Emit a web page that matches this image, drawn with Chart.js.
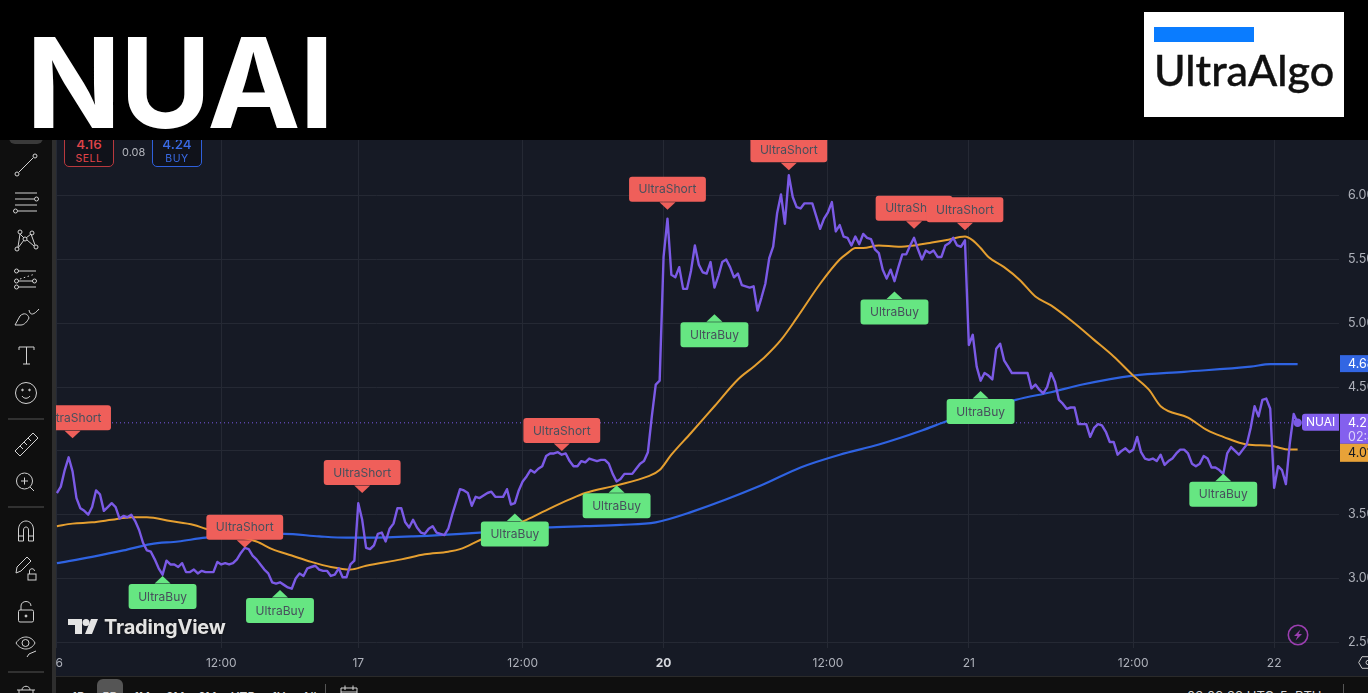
<!DOCTYPE html>
<html>
<head>
<meta charset="utf-8">
<title>NUAI</title>
<script src="https://cdn.jsdelivr.net/npm/chart.js@4/dist/chart.umd.min.js"></script>
<style>
html, body { margin: 0; padding: 0; background: #0f0f0f; }
body { position: relative; width: 1368px; height: 693px; overflow: hidden; font-family: Inter, sans-serif; }
.abs { position: absolute; white-space: nowrap; }
#chartWrap { position: absolute; left: 0; top: 0; width: 1368px; height: 693px; background: #161a25; }
#header { position: absolute; left: 0; top: 0; width: 1368px; height: 140px; background: #000; }
#ticker { position: absolute; left: 26px; top: 8px; font: 700 125px/150px Inter, sans-serif; color: #fff; letter-spacing: -1.5px; }
#logo { position: absolute; left: 1144px; top: 12px; width: 200px; height: 105px; background: #fff; }
#logoBar { position: absolute; left: 10px; top: 15px; width: 100px; height: 15px; background: #0a7cff; }
#logoText { position: absolute; left: 10px; top: 31px; font: 500 43px/54px Lato, sans-serif; color: #111; -webkit-text-stroke: .4px #111; }
#toolbar { position: absolute; left: 0; top: 140px; width: 52px; height: 553px; background: #0f0f0f; }
#toolbarEdge { position: absolute; left: 52px; top: 140px; width: 4px; height: 553px; background: #2e2e2e; }
#footer { position: absolute; left: 56px; top: 676px; width: 1312px; height: 17px; background: #0f0f0f; border-top: 1px solid #2a2a2a; box-sizing: border-box; }
.range { position: absolute; top: 689px; font-size: 12px; line-height: 15px; color: #d6d6d6; font-weight: 500; }
.trade { position: absolute; top: 130px; width: 50px; height: 37px; border-radius: 5px; background: #10121a; box-sizing: border-box; text-align: center; font-size: 13.5px; }
.trade b { display: block; margin-top: 6px; line-height: 14px; font-weight: 500; }
.trade span { display: block; font-size: 10.5px; line-height: 16px; letter-spacing: .5px; }
#tvName { position: absolute; left: 104px; top: 613px; font: 700 20px/28px Inter, sans-serif; color: #e4e4e4; letter-spacing: -.2px; text-shadow: 0 0 3px #111; }
svg.abs { overflow: visible; }
</style>
</head>
<body>
<div id="chartWrap"><canvas id="priceChart" width="1368" height="693"></canvas></div>

<div class="trade abs" style="left:64px;border:1px solid #b8393e;color:#e2454a"><b>4.16</b><span>SELL</span></div>
<div class="abs" style="left:122px;top:145px;font-size:11px;line-height:14px;color:#b4b6bd">0.08</div>
<div class="trade abs" style="left:152px;border:1px solid #2f60dc;color:#3a6be6"><b>4.24</b><span>BUY</span></div>

<!-- TradingView mark -->
<svg class="abs" style="left:67px;top:618px" width="32" height="18" viewBox="0 0 32 18">
  <path d="M1 1h14v15H8V7H1z M24 1h7l-6 15h-7z" fill="#e4e4e4"/><circle cx="19" cy="4.5" r="3.5" fill="#e4e4e4"/>
</svg>
<div id="tvName">TradingView</div>

<!-- lightning badge -->
<svg class="abs" style="left:1287px;top:624px" width="22" height="22" viewBox="0 0 22 22">
  <circle cx="11" cy="11" r="9.7" fill="none" stroke="#9b3fb0" stroke-width="1.6"/>
  <path d="M13.5 5.5 L7 12 H10.5 L8.5 16.5 L15 10 H11.5 Z" fill="#9b3fb0"/>
</svg>
<!-- axis settings -->
<svg class="abs" style="left:1358px;top:656px" width="14" height="13" viewBox="0 0 14 13">
  <path d="M4 .7H14V12.3H4L.7 6.5Z M8 6.5a2.2 2.2 0 1 0 4.4 0a2.2 2.2 0 1 0-4.4 0" fill="none" stroke="#c8c8c8"/>
</svg>

<div id="footer"></div>
<div class="abs" style="left:97px;top:679px;width:26px;height:20px;border-radius:6px;background:#555"></div>
<div id="rangeRow"></div>
<div class="abs" style="left:325px;top:684px;width:1px;height:10px;background:#555"></div>
<svg class="abs" style="left:340px;top:685px" width="18" height="12" viewBox="0 0 18 12"><path d="M1 3H17V14H1Z M5 .5V5 M13 .5V5 M1 7H17" fill="none" stroke="#d6d6d6"/></svg>
<div class="abs" style="left:1187px;top:689px;font-size:13px;line-height:15px;color:#d6d6d6">03:09:38 UTC-5&nbsp;&nbsp;RTH</div>
<div class="abs" style="left:1343px;top:684px;width:1px;height:10px;background:#555"></div>

<div id="toolbar"></div>
<div id="toolbarEdge"></div>
<svg class="abs" style="left:0;top:0" width="52" height="693" viewBox="0 0 52 693" fill="none" stroke="#d2d2d2" stroke-width="1">
  <rect x="9" y="120" width="34" height="24" rx="6" fill="#3a3a3a" stroke="none"/>
  <!-- trend line -->
  <path d="M19 172 L33 158"/><circle cx="17" cy="174" r="2"/><circle cx="35" cy="156" r="2"/>
  <!-- fib -->
  <path d="M15 193H37 M15 199H34 M15 205H37 M18 211H37"/><circle cx="36.500" cy="199" r="2"/><circle cx="15.500" cy="211" r="2"/>
  <!-- pattern -->
  <circle cx="20" cy="232" r="2"/><circle cx="32" cy="233" r="2"/><circle cx="25" cy="239" r="2"/><circle cx="17" cy="249" r="2"/><circle cx="36" cy="247" r="2"/>
  <path d="M18 247 L20 234 L24 238 M26 238 L31 234 L35 245 M18 248 L24 240 M27 240 L34 246"/>
  <!-- forecast -->
  <path d="M18 271H36 M18 281H33 M18 287H36"/><path d="M20 279 L35 274" stroke-dasharray="1.500 2.500"/>
  <circle cx="16.500" cy="271" r="2"/><circle cx="16.500" cy="281" r="2"/><circle cx="34.500" cy="281" r="2"/><circle cx="16.500" cy="287" r="2"/>
  <!-- brush -->
  <path d="M15 325 L20 316 C24 312 28 314 29 318 C27 322 24 325 21 325 Z M29 310 C30 316 34 315 39 309"/>
  <!-- text -->
  <path d="M19 347H34 M26.500 347V364 M23 364H30 M19 347V350 M34 347V350"/>
  <!-- smile -->
  <circle cx="26" cy="393" r="10.500"/><path d="M22 396 C24 399 28 399 30 396"/><circle cx="22.500" cy="390" r=".8" fill="#d2d2d2"/><circle cx="29.500" cy="390" r=".8" fill="#d2d2d2"/>
  <path d="M8 419H44" stroke="#555"/>
  <!-- ruler -->
  <path d="M15 451 L33 433 L38 438 L20 456 Z M20 446 L23 449 M24 442 L27 445 M28 438 L31 441"/>
  <!-- zoom -->
  <circle cx="24.500" cy="481" r="8"/><path d="M30 487 L34 491 M21 481H28 M24.500 477.500V484.500"/>
  <path d="M8 507H44" stroke="#555"/>
  <!-- magnet -->
  <path d="M18.500 541V530 C18.500 518 33.500 518 33.500 530 V541 H28.500 V530 C28.500 526 23.500 526 23.500 530 V541 Z M18.500 536H23.500 M28.500 536H33.500"/>
  <!-- pencil lock -->
  <path d="M16 573 L17 567 L27 557 L31 561 L21 571 Z"/><rect x="28" y="574" width="8" height="6"/><path d="M29.500 574 V571 C29.500 568 34.500 568 34.500 571"/>
  <!-- lock -->
  <rect x="18.500" y="610" width="15" height="12" rx="1.500"/><path d="M21 610 V606 C21 600 31 600 31 606"/><circle cx="26" cy="616" r="1" fill="#d2d2d2"/>
  <!-- eye -->
  <path d="M16 643 C21 635 31 635 35 643 C31 651 21 651 16 643 Z"/><circle cx="25.500" cy="643" r="3.500"/><path d="M27 657 L29 654 L36 651" />
  <path d="M8 672H44" stroke="#555"/>
  <!-- trash -->
  <path d="M17 690H35 M22 690 C22 685 30 685 30 690 M19 690 V700 H33 V690"/>
</svg>

<div id="header">
  <div id="ticker">NUAI</div>
  <div id="logo"><div id="logoBar"></div><div id="logoText">UltraAlgo</div></div>
</div>

<script>
/* ===============
   CHART DATA
   =============== */
const tickBars = [0, 42, 77, 119, 155, 197, 233, 275, 311];
const tickLabels = ['16', '12:00', '17', '12:00', '20', '12:00', '21', '12:00', '22'];
const priceTicks = [2.5, 3, 3.5, 4, 4.5, 5, 5.5, 6];

// one value per bar
const priceValues = [
    3.67,3.72,3.85,3.95,3.84,3.63,3.55,3.53,3.50,3.56,
    3.69,3.66,3.53,3.56,3.59,3.56,3.47,3.49,3.48,3.50,
    3.45,3.38,3.28,3.22,3.21,3.15,3.08,3.03,3.14,3.11,
    3.11,3.09,3.12,3.05,3.05,3.07,3.04,3.06,3.05,3.05,
    3.05,3.13,3.11,3.12,3.11,3.12,3.15,3.20,3.24,3.23,
    3.18,3.15,3.11,3.07,3.04,2.97,2.96,2.97,2.95,2.93,
    2.92,3.00,3.04,3.02,3.08,3.09,3.10,3.07,3.06,3.06,
    3.02,3.03,3.08,3.01,3.01,3.11,3.14,3.59,3.46,3.24,
    3.23,3.26,3.35,3.36,3.29,3.39,3.43,3.55,3.55,3.44,
    3.40,3.46,3.40,3.36,3.35,3.39,3.41,3.36,3.35,3.34,
    3.39,3.50,3.60,3.70,3.69,3.67,3.57,3.64,3.63,3.65,
    3.67,3.68,3.64,3.64,3.64,3.70,3.58,3.59,3.69,3.76,
    3.80,3.85,3.83,3.86,3.88,3.96,3.98,3.98,3.99,3.97,
    3.98,3.92,3.88,3.88,3.92,3.91,3.94,3.93,3.92,3.93,
    3.93,3.90,3.82,3.76,3.78,3.82,3.82,3.82,3.86,3.90,
    3.92,3.99,4.27,4.52,4.55,5.52,5.82,5.38,5.36,5.44,
    5.27,5.27,5.41,5.61,5.46,5.40,5.39,5.48,5.28,5.37,
    5.48,5.50,5.44,5.36,5.39,5.30,5.29,5.28,5.29,5.10,
    5.20,5.31,5.51,5.60,5.86,6.01,5.78,6.16,5.99,5.91,
    5.90,5.94,5.94,5.94,5.84,5.74,5.82,5.87,5.95,5.72,
    5.77,5.68,5.67,5.61,5.68,5.62,5.70,5.67,5.66,5.58,
    5.55,5.42,5.35,5.42,5.33,5.44,5.54,5.54,5.61,5.67,
    5.58,5.50,5.57,5.55,5.57,5.52,5.52,5.61,5.63,5.67,
    5.61,5.60,5.65,4.83,4.91,4.66,4.55,4.61,4.59,4.56,
    4.80,4.84,4.71,4.66,4.61,4.61,4.61,4.61,4.61,4.49,
    4.52,4.48,4.45,4.50,4.61,4.54,4.40,4.37,4.33,4.34,
    4.34,4.21,4.21,4.21,4.11,4.18,4.21,4.20,4.15,4.07,
    4.07,3.97,4.00,4.02,3.99,4.01,4.11,3.99,3.94,3.93,
    3.94,3.92,3.97,3.89,3.92,3.94,3.98,4.01,4.01,3.98,
    3.90,3.88,3.90,3.96,3.94,3.87,3.87,3.85,3.82,3.98,
    4.03,4.00,3.97,4.01,4.05,4.18,4.35,4.27,4.40,4.41,
    4.33,3.71,3.88,3.85,3.74,4.06,4.29,4.22
];

const orangeBars = [0,4,9,14,19,23,29,35,38,44,51,55,60,65,70,75,79,88,94,100,103,108,114,120,126,131,135,143,151,154,157,162,168,174,178,181,185,189,195,200,202,204,206,210,215,219,223,227,232,234,236,238,242,246,250,254,260,265,270,275,279,282,289,294,298,304,310,315,317];
const orangeValues = [3.41,3.43,3.44,3.46,3.48,3.48,3.45,3.42,3.39,3.34,3.29,3.23,3.18,3.13,3.09,3.07,3.10,3.15,3.19,3.21,3.23,3.30,3.38,3.46,3.55,3.62,3.67,3.73,3.80,3.85,3.97,4.14,4.35,4.56,4.66,4.74,4.87,5.04,5.31,5.50,5.55,5.59,5.59,5.61,5.60,5.61,5.63,5.65,5.68,5.65,5.59,5.52,5.44,5.34,5.21,5.14,5.00,4.87,4.74,4.59,4.48,4.35,4.26,4.16,4.11,4.05,4.04,4.01,4.01];

const blueBars = [0,9,17,24,31,38,58,67,74,80,91,108,125,135,144,153,162,180,190,200,210,221,228,245,254,262,275,288,305,310,317];
const blueValues = [3.12,3.17,3.22,3.27,3.29,3.32,3.35,3.33,3.32,3.32,3.33,3.36,3.40,3.41,3.42,3.44,3.52,3.73,3.87,3.97,4.05,4.16,4.24,4.40,4.46,4.52,4.59,4.62,4.66,4.68,4.68];

const shortBars = [4, 48, 78, 129, 156, 187, 219, 232];
const shortPrices = [4.10, 3.24, 3.67, 4.00, 5.89, 6.20, 5.74, 5.73];
const buyBars = [27, 57, 117, 143, 168, 214, 236, 298];
const buyPrices = [3.02, 2.91, 3.51, 3.73, 5.07, 5.25, 4.47, 3.82];

/* ===============
   PAGE BITS
   =============== */
const rangeNames = [['1D', 72], ['5D', 102], ['1M', 134], ['3M', 166], ['6M', 198], ['YTD', 231], ['1Y', 272], ['All', 302]];
document.getElementById('rangeRow').innerHTML = rangeNames
    .map(r => `<div class="range" style="left:${r[1]}px">${r[0]}</div>`).join('');

/* ===============
   PLUGINS
   =============== */
const COLOR_PRICE = '#7b5ae6';
const COLOR_ORANGE = '#e59f30';
const COLOR_BLUE = '#2f63e2';

function drawFlag(ctx, x, y, label, color, isShort) {
    const w = ctx.measureText(label).width + 19;
    const h = 25;
    const tip = 8;
    const dir = isShort ? -1 : 1;
    const top = isShort ? y - tip - h : y + tip;
    ctx.fillStyle = color;
    ctx.beginPath();
    ctx.roundRect(x - w / 2, top, w, h, 3);
    ctx.fill();
    ctx.beginPath();
    ctx.moveTo(x - 8, y + dir * tip + (isShort ? 0.5 : -0.5));
    ctx.lineTo(x, y);
    ctx.lineTo(x + 8, y + dir * tip + (isShort ? 0.5 : -0.5));
    ctx.closePath();
    ctx.fill();
    ctx.fillStyle = '#47505c';
    ctx.textAlign = 'center';
    ctx.textBaseline = 'middle';
    ctx.fillText(label, x, top + h / 2 + 0.5);
}

const signalFlags = {
    id: 'signalFlags',
    afterDatasetsDraw(chart) {
        const ctx = chart.ctx;
        const xs = chart.scales.x;
        const ys = chart.scales.y;
        ctx.save();
        ctx.font = '12px Inter, sans-serif';
        shortBars.forEach((bar, i) => drawFlag(ctx, xs.getPixelForValue(bar), ys.getPixelForValue(shortPrices[i]), 'UltraShort', '#ef5f5a', true));
        buyBars.forEach((bar, i) => drawFlag(ctx, xs.getPixelForValue(bar), ys.getPixelForValue(buyPrices[i]), 'UltraBuy', '#66e682', false));
        ctx.restore();
    }
};

const axisBadges = {
    id: 'axisBadges',
    afterDraw(chart) {
        const ctx = chart.ctx;
        const ys = chart.scales.y;
        const left = chart.chartArea.right + 1;
        const lastPrice = priceValues[priceValues.length - 1];
        const lastBlue = blueValues[blueValues.length - 1];
        const lastOrange = orangeValues[orangeValues.length - 1];
        const yPrice = ys.getPixelForValue(lastPrice);
        const yBlue = ys.getPixelForValue(lastBlue);
        ctx.save();
        ctx.font = '12.5px Inter, sans-serif';
        ctx.textAlign = 'left';
        ctx.textBaseline = 'middle';

        ctx.fillStyle = '#3266e3';
        ctx.fillRect(left, yBlue - 9, 30, 17);
        ctx.fillStyle = '#fff';
        ctx.fillText(lastBlue.toFixed(2), left + 8, yBlue);

        ctx.fillStyle = '#8460ee';
        ctx.fillRect(left, yPrice - 9, 30, 30);
        ctx.fillStyle = '#fff';
        ctx.fillText(lastPrice.toFixed(2), left + 8, yPrice);
        ctx.fillStyle = '#ddd2fb';
        ctx.fillText('02:41', left + 8, yPrice + 14);

        ctx.fillStyle = '#e8a238';
        ctx.fillRect(left, yPrice + 21, 30, 18);
        ctx.fillStyle = '#131722';
        ctx.fillText(lastOrange.toFixed(2), left + 8, yPrice + 30);

        // ticker tag next to the scale
        ctx.fillStyle = '#8460ee';
        ctx.beginPath();
        ctx.roundRect(left - 38, yPrice - 9, 37, 17, [3, 0, 0, 3]);
        ctx.fill();
        ctx.fillStyle = '#fff';
        ctx.font = '12px Inter, sans-serif';
        ctx.fillText('NUAI', left - 34, yPrice);
        ctx.restore();
    }
};

/* ===============
   CHART
   =============== */
const toPoints = (bars, values) => bars.map((bar, i) => ({ x: bar, y: values[i] }));
const priceBars = priceValues.map((v, i) => i);
const lastIndex = priceValues.length - 1;
const xMin = -0.23;
const xMax = 327.57;
const isDayTwenty = c => !!c.tick && tickLabels[tickBars.indexOf(c.tick.value)] === '20';

new Chart(document.getElementById('priceChart'), {
    type: 'line',
    data: {
        datasets: [
            {
                data: toPoints(priceBars, priceValues), borderColor: COLOR_PRICE, backgroundColor: COLOR_PRICE,
                borderWidth: 2.4, tension: 0, borderJoinStyle: 'round',
                pointRadius: c => c.dataIndex === lastIndex ? 3 : 0
            },
            { data: toPoints(orangeBars, orangeValues), borderColor: COLOR_ORANGE, borderWidth: 2, pointRadius: 0, cubicInterpolationMode: 'monotone' },
            { data: toPoints(blueBars, blueValues), borderColor: COLOR_BLUE, borderWidth: 2.2, pointRadius: 0, cubicInterpolationMode: 'monotone' },
            {
                data: [{ x: xMin, y: priceValues[lastIndex] }, { x: xMax, y: priceValues[lastIndex] }],
                borderColor: COLOR_PRICE, borderWidth: 1, borderDash: [1, 3], pointRadius: 0
            }
        ]
    },
    options: {
        responsive: false,
        animation: false,
        events: [],
        layout: { padding: { left: 56, top: 140, right: 0, bottom: 0 } },
        plugins: { legend: { display: false }, tooltip: { enabled: false } },
        scales: {
            x: {
                type: 'linear', min: xMin, max: xMax,
                afterBuildTicks: axis => { axis.ticks = tickBars.map(v => ({ value: v })); },
                afterFit: axis => { axis.height = 45; },
                border: { display: false },
                grid: { color: '#252934', drawTicks: false },
                ticks: {
                    padding: 8, maxRotation: 0, autoSkip: false,
                    color: c => isDayTwenty(c) ? '#d6d8de' : '#aeb1ba',
                    font: c => ({ family: 'Inter, sans-serif', size: 12, weight: isDayTwenty(c) ? '700' : '400' }),
                    callback: v => tickLabels[tickBars.indexOf(v)]
                }
            },
            y: {
                position: 'right', min: 2.4553, max: 6.4365,
                afterBuildTicks: axis => { axis.ticks = priceTicks.map(v => ({ value: v })); },
                afterFit: axis => { axis.width = 29; },
                border: { display: false },
                grid: { color: '#252934', drawTicks: false },
                ticks: {
                    padding: 9, color: '#aeb1ba',
                    font: { family: 'Inter, sans-serif', size: 12.5 },
                    callback: v => v.toFixed(2)
                }
            }
        }
    },
    plugins: [signalFlags, axisBadges]
});
</script>
</body>
</html>
